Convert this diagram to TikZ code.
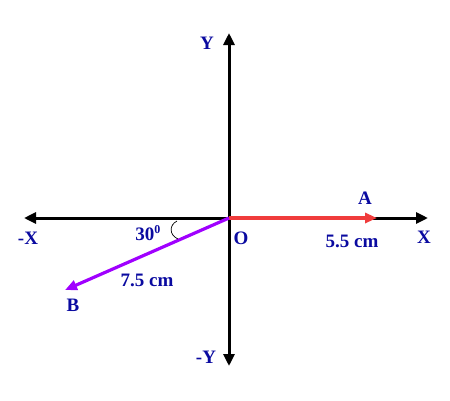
\documentclass[tikz,border=0pt]{standalone}
\usepackage{fontspec}
\setmainfont{Liberation Serif}
\usetikzlibrary{arrows.meta}
\definecolor{lbl}{RGB}{10,10,160}
\definecolor{vred}{RGB}{240,60,60}
\definecolor{vpur}{RGB}{160,0,255}
\begin{document}
\begin{tikzpicture}[x=1pt,y=-1pt,
  lab/.style={text=lbl,font=\fontsize{19}{21}\selectfont\bfseries,inner sep=0pt},
  axis/.style={line width=3pt,-{Triangle[length=12pt,width=11pt]}},
  vec/.style={line width=3.2pt,-{Triangle[length=12pt,width=10pt]}}]
\useasboundingbox (0,0) rectangle (450,400);
\coordinate (O) at (229,218);
\coordinate (xp) at (428,218);
\coordinate (xn) at (24,218);
\coordinate (yp) at (229,33);
\coordinate (yn) at (229,366);
\coordinate (A) at (377,218);
\coordinate (B) at (65,290);
\coordinate (a1) at (177,221);
\coordinate (a2) at (178,239);
\draw[axis] (O) -- (xp);
\draw[axis] (O) -- (xn);
\draw[axis] (O) -- (yp);
\draw[axis] (O) -- (yn);
\draw[vec,vred] (O) -- (A);
\draw[vec,vpur] (O) -- (B);
\draw[line width=0.7pt] (a1) .. controls (169,225) and (169,235) .. (a2);
\node[lab] (ly) at (207,43) {Y};
\node[lab] (lny) at (206,357) {-Y};
\node[lab] (lnx) at (28,238) {-X};
\node[lab] (lx) at (424,237) {X};
\node[lab] (la) at (365,198) {A};
\node[lab] (lo) at (241,238) {O};
\node[lab] (l55) at (352,241) {5.5 cm};
\node[lab] (l30) at (148,233) {30\textsuperscript{\fontsize{12}{12}\selectfont 0}};
\node[lab] (l75) at (147,280) {7.5 cm};
\node[lab] (lb) at (73,305) {B};
\end{tikzpicture}
\end{document}
